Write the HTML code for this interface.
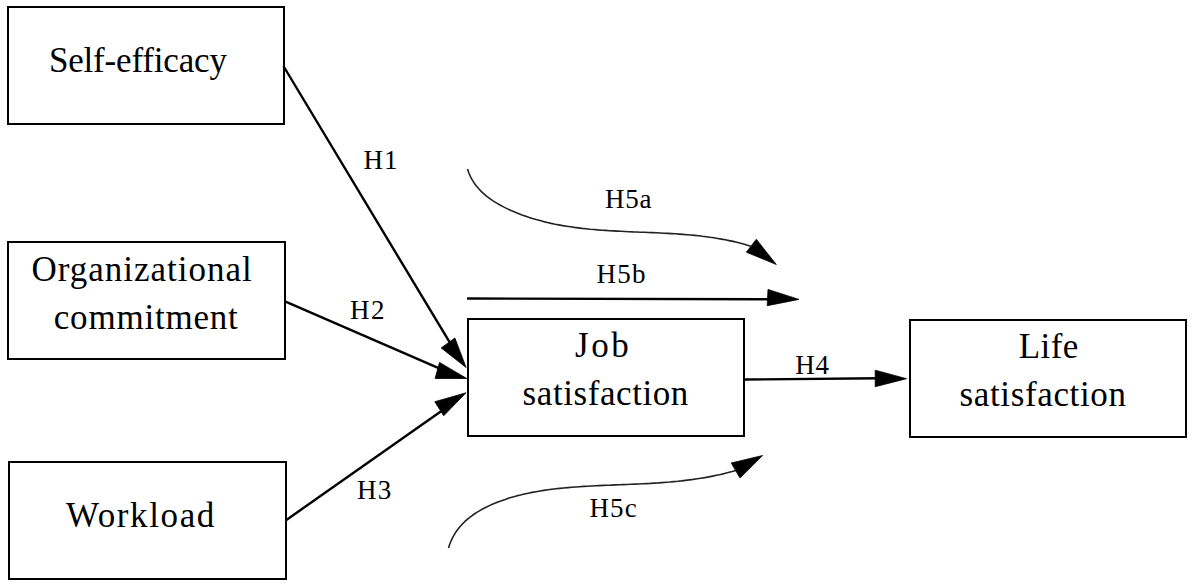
<!DOCTYPE html><html><head><meta charset="utf-8"><style>html,body{margin:0;padding:0;background:#fff;width:1193px;height:587px;overflow:hidden}svg{display:block}text{font-family:"Liberation Serif",serif;fill:#000}</style></head><body>
<svg width="1193" height="587" viewBox="0 0 1193 587">
<rect x="0" y="0" width="1193" height="587" fill="#fff"/>
<rect x="8" y="7" width="276" height="117" fill="none" stroke="#000" stroke-width="2"/>
<rect x="8" y="242" width="277" height="117" fill="none" stroke="#000" stroke-width="2"/>
<rect x="9" y="462" width="277" height="117" fill="none" stroke="#000" stroke-width="2"/>
<rect x="468" y="319" width="276" height="117" fill="none" stroke="#000" stroke-width="2"/>
<rect x="910" y="320" width="276" height="117" fill="none" stroke="#000" stroke-width="2"/>
<line x1="283.4" y1="66" x2="455" y2="351.2" stroke="#000" stroke-width="2.4"/>
<line x1="285" y1="301.4" x2="445" y2="370.9" stroke="#000" stroke-width="2.4"/>
<line x1="285.7" y1="520.4" x2="450" y2="405" stroke="#000" stroke-width="2.4"/>
<line x1="745" y1="379.5" x2="880" y2="378.3" stroke="#000" stroke-width="2.4"/>
<line x1="467" y1="298.5" x2="772" y2="299.2" stroke="#000" stroke-width="2.4"/>
<polygon points="466.1,367.5 441.2,347.9 454.9,338.0" fill="#000" stroke="#000" stroke-width="0.8" stroke-linejoin="miter"/>
<polygon points="466.8,378.5 439.5,362.4 435.1,378.5" fill="#000" stroke="#000" stroke-width="0.8" stroke-linejoin="miter"/>
<polygon points="466.0,392.8 434.8,401.7 443.7,415.8" fill="#000" stroke="#000" stroke-width="0.8" stroke-linejoin="miter"/>
<polygon points="906.6,378.7 875.2,370.2 875.2,386.7" fill="#000" stroke="#000" stroke-width="0.8" stroke-linejoin="miter"/>
<polygon points="799,299.4 768,289.4 767.2,305.7" fill="#000" stroke="#000" stroke-width="0.8" stroke-linejoin="miter"/>
<polygon points="776.3,264.5 756.3,239.2 746.4,252.2" fill="#000" stroke="#000" stroke-width="0.8" stroke-linejoin="miter"/>
<polygon points="762.6,455.5 731.2,463 740,478.1" fill="#000" stroke="#000" stroke-width="0.8" stroke-linejoin="miter"/>
<path d="M467.5,168.9 L468.8,172.7 L470.3,176.3 L472.1,179.7 L474.1,182.9 L476.4,186.0 L478.8,188.8 L481.4,191.6 L484.2,194.1 L487.1,196.6 L490.2,198.9 L493.4,201.1 L496.7,203.1 L500.0,205.0 L503.5,206.9 L507.0,208.6 L510.5,210.3 L514.1,211.8 L517.7,213.3 L521.3,214.7 L525.0,216.0 L528.7,217.3 L532.4,218.5 L536.1,219.6 L539.9,220.6 L543.6,221.6 L547.4,222.5 L551.2,223.4 L555.0,224.2 L558.9,224.9 L562.7,225.6 L566.6,226.2 L570.5,226.8 L574.3,227.4 L578.2,227.9 L582.1,228.4 L586.0,228.8 L589.9,229.2 L593.8,229.5 L597.7,229.9 L601.7,230.2 L605.6,230.4 L609.5,230.7 L613.4,230.9 L617.3,231.1 L621.2,231.3 L625.0,231.5 L628.9,231.7 L632.8,231.9 L636.7,232.0 L640.6,232.2 L644.5,232.3 L648.3,232.5 L652.2,232.6 L656.1,232.8 L660.0,233.0 L663.8,233.2 L667.7,233.4 L671.6,233.6 L675.4,233.8 L679.3,234.1 L683.1,234.4 L687.0,234.7 L690.8,235.0 L694.7,235.4 L698.5,235.8 L702.3,236.3 L706.2,236.7 L710.0,237.3 L713.8,237.8 L717.7,238.5 L721.5,239.1 L725.3,239.8 L729.1,240.6 L733.0,241.4 L736.8,242.3 L740.6,243.3 L744.4,244.3 L748.2,245.4 L752.0,246.5" fill="none" stroke="#222" stroke-width="1.6" stroke-linejoin="round"/>
<path d="M448.5,547.9 L449.8,544.0 L451.3,540.3 L453.0,536.8 L455.0,533.4 L457.1,530.3 L459.5,527.3 L462.0,524.4 L464.7,521.7 L467.5,519.2 L470.5,516.8 L473.6,514.5 L476.8,512.4 L480.2,510.4 L483.6,508.5 L487.1,506.8 L490.6,505.1 L494.2,503.5 L497.9,502.0 L501.6,500.7 L505.3,499.4 L509.0,498.1 L512.8,497.0 L516.6,495.9 L520.5,495.0 L524.3,494.0 L528.2,493.2 L532.1,492.4 L536.0,491.7 L540.0,491.0 L543.9,490.4 L547.9,489.8 L551.8,489.3 L555.8,488.8 L559.8,488.4 L563.8,488.0 L567.8,487.6 L571.7,487.3 L575.7,487.0 L579.7,486.7 L583.7,486.4 L587.6,486.2 L591.6,486.0 L595.5,485.8 L599.5,485.6 L603.4,485.4 L607.4,485.2 L611.3,485.1 L615.2,484.9 L619.1,484.8 L623.1,484.6 L627.0,484.5 L630.9,484.3 L634.8,484.1 L638.7,484.0 L642.6,483.8 L646.5,483.6 L650.4,483.4 L654.3,483.1 L658.2,482.9 L662.1,482.6 L666.0,482.3 L669.9,482.0 L673.8,481.6 L677.7,481.3 L681.6,480.9 L685.5,480.4 L689.3,479.9 L693.2,479.4 L697.1,478.8 L701.0,478.2 L704.9,477.6 L708.8,476.9 L712.7,476.1 L716.5,475.3 L720.4,474.5 L724.3,473.6 L728.2,472.6 L732.1,471.6 L736.0,470.5" fill="none" stroke="#222" stroke-width="1.6" stroke-linejoin="round"/>
<text x="48.9" y="71.9" font-size="35" letter-spacing="-0.17">Self-efficacy</text>
<text x="31.6" y="280.8" font-size="35" letter-spacing="0.98">Organizational</text>
<text x="53.8" y="328.5" font-size="35" letter-spacing="0.78">commitment</text>
<text x="65.9" y="527.0" font-size="35" letter-spacing="1.61">Workload</text>
<text x="575.1" y="356.6" font-size="35" letter-spacing="2.55">Job</text>
<text x="522.6" y="404.7" font-size="35" letter-spacing="0.58">satisfaction</text>
<text x="1018.8" y="358.3" font-size="35" letter-spacing="0.37">Life</text>
<text x="959.6" y="405.5" font-size="35" letter-spacing="0.63">satisfaction</text>
<text x="363.5" y="168.5" font-size="27" letter-spacing="1.1">H1</text>
<text x="349.9" y="319.0" font-size="27" letter-spacing="1.7">H2</text>
<text x="357.0" y="498.6" font-size="27" letter-spacing="1.3">H3</text>
<text x="795.3" y="373.9" font-size="27" letter-spacing="0.8">H4</text>
<text x="605.0" y="207.7" font-size="27" letter-spacing="0.7">H5a</text>
<text x="596.5" y="282.7" font-size="27" letter-spacing="1.2">H5b</text>
<text x="589.4" y="516.5" font-size="27" letter-spacing="1.2">H5c</text>
</svg></body></html>
